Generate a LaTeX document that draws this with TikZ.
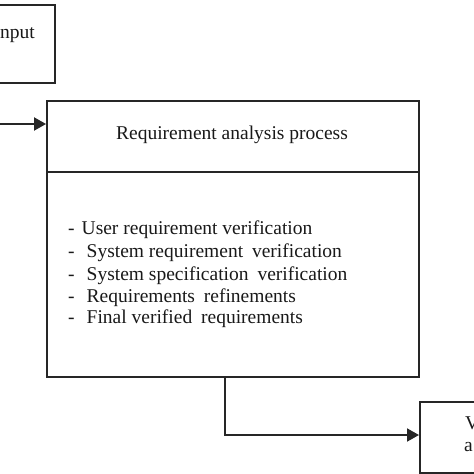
\documentclass[tikz,border=0pt]{standalone}
\usepackage{fontspec}
\setmainfont{Liberation Serif}
\usetikzlibrary{arrows.meta}
\begin{document}
\begin{tikzpicture}[x=1pt,y=-1pt,
  boxline/.style={draw=black!85,line width=1.9pt},
  conn/.style={draw=black!85,line width=1.9pt,-{Triangle[length=12pt,width=13pt]}},
  txt/.style={font=\fontsize{19.5}{23}\selectfont,text=black!90,inner sep=0pt}]
\useasboundingbox (0,0) rectangle (474,474);
\clip (0,0) rectangle (474,474);
% boxes
\node[boxline,minimum width=82pt,minimum height=78pt,inner sep=0pt] (inbox) at (14,44) {};
\node[txt,anchor=west] (intxt) at (0,35) {nput};
\node[boxline,minimum width=372pt,minimum height=276pt,inner sep=0pt] (main) at (233,239) {};
\coordinate (divL) at (47,172);
\coordinate (divR) at (419,172);
\draw[boxline] (divL) -- (divR);
\node[txt] (title) at (232,135) {Requirement analysis process};
\node[txt,anchor=west] (l1) at (68,230) {-\hspace{7pt}User requirement verification};
\node[txt,anchor=west] (l2) at (68,253) {-\hspace{12pt}System requirement\hspace{4pt} verification};
\node[txt,anchor=west] (l3) at (68,276) {-\hspace{12pt}System specification\hspace{4pt} verification};
\node[txt,anchor=west] (l4) at (68,298) {-\hspace{12pt}Requirements\hspace{4pt} refinements};
\node[txt,anchor=west] (l5) at (68,319) {-\hspace{12pt}Final verified\hspace{4pt} requirements};
\node[boxline,minimum width=100pt,minimum height=71pt,inner sep=0pt,anchor=north west] (outbox) at (419,401) {};
\node[txt,anchor=west] (o1) at (465,423) {V};
\node[txt,anchor=west] (o2) at (464,447) {a};
% connectors
\coordinate (src) at (-10,124);
\draw[conn] (src) -- (src -| main.west);
\coordinate (down) at (225,377);
\coordinate (corner) at (225,435);
\draw[conn] (down) -- (corner) -- (corner -| outbox.west);
\end{tikzpicture}
\end{document}
